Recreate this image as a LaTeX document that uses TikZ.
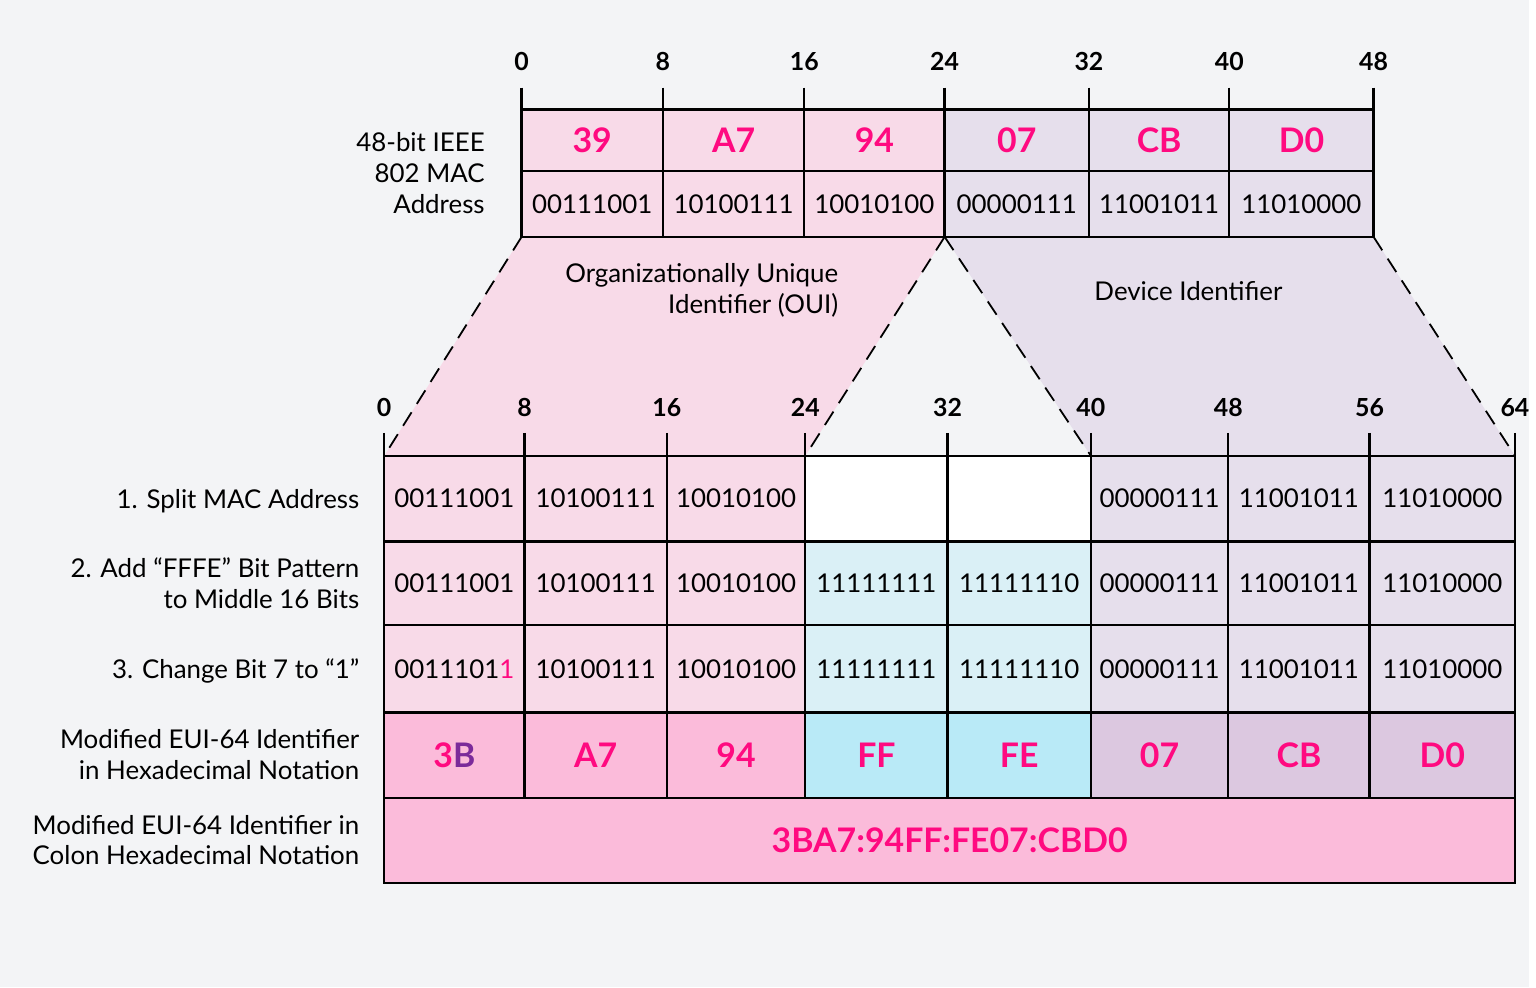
\documentclass[tikz,border=0pt]{standalone}
\usepackage{fontspec}
\setmainfont{Lato}
\definecolor{bgc}{HTML}{F3F4F6}
\definecolor{ouic}{HTML}{F8DAE8}
\definecolor{devc}{HTML}{E6DFEC}
\definecolor{fffc}{HTML}{DAF0F6}
\definecolor{hexpink}{HTML}{FBBBDA}
\definecolor{hexcyan}{HTML}{B9EAF7}
\definecolor{hexlav}{HTML}{DCC8E0}
\definecolor{magenta}{HTML}{FF0A80}
\definecolor{purp}{HTML}{7B2A9A}
\tikzset{
  cell/.style={draw=black, line width=1.2pt, inner sep=0pt, font=\fontsize{13}{14}\selectfont},
  hexcell/.style={cell, text=magenta, font=\fontsize{17}{18}\selectfont\bfseries},
  bitno/.style={font=\fontsize{12.5}{13}\selectfont\bfseries, anchor=south},
  rowlab/.style={anchor=east, align=right, font=\fontsize{13}{15.5}\selectfont},
  split/.style={dashed, dash pattern=on 8pt off 5pt, line width=0.9pt}
}
\begin{document}
\begin{tikzpicture}[x=0.5pt, y=-0.5pt]
	\fill[bgc] (0,0) rectangle (1536,992);
	%shaded bands
	\fill[ouic] (524,238) -- (949,238) -- (809,458) -- (386,458) -- cycle;
	\fill[devc] (949,238) -- (1380,238) -- (1522,458) -- (1096,458) -- cycle;
	\draw[split] (524,238) -- (386,458) (949,238) -- (809,458);
	\draw[split] (949,238) -- (1096,458) (1380,238) -- (1522,458);
	\node[font=\fontsize{13}{15.5}\selectfont, align=right] (ouilab) at (705,292) {Organizationally Unique\\Identifier (OUI)};
	\node[font=\fontsize{13}{15.5}\selectfont] (devlab) at (1194,292) {Device Identifier};
	%top table
	\foreach \xa/\xb/\hx/\bits/\col [count=\i] in {524/666/39/00111001/ouic, 666/808/A7/10100111/ouic, 808/949/94/10010100/ouic, 949/1094/07/00000111/devc, 1094/1235/CB/11001011/devc, 1235/1380/D0/11010000/devc}{
		\node[hexcell, fill=\col, minimum width=(\xb-\xa)*0.5pt, minimum height=31pt] (th\i) at ({(\xa+\xb)/2},141) {\hx};
		\node[cell, fill=\col, minimum width=(\xb-\xa)*0.5pt, minimum height=33pt] (tb\i) at ({(\xa+\xb)/2},205) {\bits};
	}
	\foreach \xp/\lab in {524/0, 666/8, 808/16, 949/24, 1094/32, 1235/40, 1380/48}{
		\draw[line width=1.2pt] (\xp,88) -- (\xp,110);
		\node[bitno] at (\xp,78) {\lab};
	}
	\node[rowlab] (maclab) at (494,174) {48-bit IEEE\\802 MAC\\Address};
	%bottom table
	\foreach \xa/\xb/\ba/\bb/\bc/\hx/\ca/\cb [count=\i] in {
		386/527/00111001/00111001/0011101{\color{magenta}1}/3{\color{purp}B}/ouic/hexpink,
		527/670/10100111/10100111/10100111/A7/ouic/hexpink,
		670/809/10010100/10010100/10010100/94/ouic/hexpink,
		809/952/{}/11111111/11111111/FF/fffc/hexcyan,
		952/1096/{}/11111110/11111110/FE/fffc/hexcyan,
		1096/1234/00000111/00000111/00000111/07/devc/hexlav,
		1234/1376/11001011/11001011/11001011/CB/devc/hexlav,
		1376/1522/11010000/11010000/11010000/D0/devc/hexlav}{
		\ifnum\i=4 \def\fa{white}\else\ifnum\i=5 \def\fa{white}\else\let\fa\ca\fi\fi
		\node[cell, fill=\fa, minimum width=(\xb-\xa)*0.5pt, minimum height=43pt] (ra\i) at ({(\xa+\xb)/2},501) {\ba};
		\node[cell, fill=\ca, minimum width=(\xb-\xa)*0.5pt, minimum height=42pt] (rb\i) at ({(\xa+\xb)/2},586) {\bb};
		\node[cell, fill=\ca, minimum width=(\xb-\xa)*0.5pt, minimum height=44pt] (rc\i) at ({(\xa+\xb)/2},672) {\bc};
		\node[hexcell, fill=\cb, minimum width=(\xb-\xa)*0.5pt, minimum height=43pt] (rd\i) at ({(\xa+\xb)/2},759) {\hx};
	}
	\node[hexcell, fill=hexpink, minimum width=568pt, minimum height=42.5pt] (colon) at (954,844.5) {3BA7:94FF:FE07:CBD0};
	\foreach \xp/\lab in {386/0, 527/8, 670/16, 809/24, 952/32, 1096/40, 1234/48, 1376/56, 1522/64}{
		\draw[line width=1.2pt] (\xp,435) -- (\xp,458);
		\node[bitno] at (\xp,426) {\lab};
	}
	%labels
	\node[rowlab] (l1) at (368,504) {1. Split MAC Address};
	\node[rowlab] (l2) at (368,586) {2. Add “FFFE” Bit Pattern\\to Middle 16 Bits};
	\node[rowlab] (l3) at (368,674) {3. Change Bit 7 to “1”};
	\node[rowlab] (l4) at (368,758) {Modified EUI-64 Identifier\\in Hexadecimal Notation};
	\node[rowlab, align=left] (l5) at (368,844) {Modified EUI-64 Identifier in\\Colon Hexadecimal Notation};
\end{tikzpicture}
\end{document}
